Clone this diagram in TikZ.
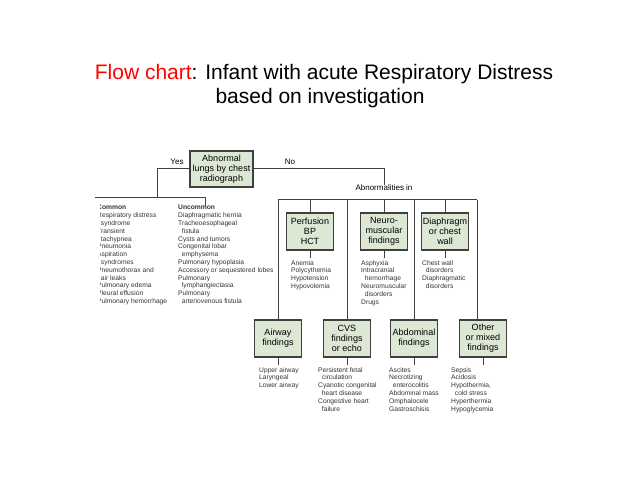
\documentclass[tikz,border=0pt]{standalone}
\usepackage{fontspec}
\setmainfont{Liberation Sans}
\begin{document}
\begin{tikzpicture}[x=1pt,y=-1pt,
  box/.style={draw=black!75,line width=1.2pt,fill={rgb,255:red,221;green,232;blue,212},align=center,font=\fontsize{9}{10}\selectfont,inner sep=1pt},
  ln/.style={draw=black!75,line width=1pt},
  lst/.style={anchor=north west,align=left,font=\fontsize{6.7}{7.8}\selectfont,inner sep=0pt,text=black!80},
  lab/.style={font=\fontsize{8}{9}\selectfont,inner sep=0pt}]
\useasboundingbox (0,0) rectangle (638,478);
\node (t1) at (324,74) {\fontsize{21}{24}\selectfont\textcolor{red}{Flow chart}: Infant with acute Respiratory Distress};
\node (t2) at (320,98) {\fontsize{21}{24}\selectfont based on investigation};
\node[box,minimum width=63pt,minimum height=36pt] (top) at (221.5,169) {Abnormal\\lungs by chest\\radiograph};
\node[lab] (yes) at (177,162) {Yes};
\node[lab] (no) at (290,162) {No};
\node[lab] (abn) at (384,188) {Abnormalities in};
\coordinate (yl) at (157,169);
\coordinate (yd) at (157,198);
\coordinate (cl) at (95,198);
\coordinate (ur) at (205,198);
\coordinate (ud) at (205,206);
\draw[ln] (top.west) -- (yl) -- (yd);
\draw[ln] (cl) -- (ur) -- (ud);
\coordinate (nr) at (384,169);
\draw[ln] (top.east) -- (nr) -- (abn.north);
\coordinate (hl) at (278,200);
\coordinate (hr) at (477,200);
\draw[ln] (hl) -- (hr);
\foreach \n/\x/\t in {p/310/{Perfusion\\BP\\HCT},n/384/{Neuro-\\muscular\\findings},d/445/{Diaphragm\\or chest\\wall}}{
  \node[box,minimum width=47pt,minimum height=37pt] (\n) at (\x,231.5) {\t};
  \coordinate (\n t) at (\x,200);
  \coordinate (\n b) at (\x,258);
  \draw[ln] (\n t) -- (\n.north);
  \draw[ln] (\n.south) -- (\n b);
}
\foreach \n/\x/\t in {a/278/{Airway\\findings},c/347/{CVS\\findings\\or echo},b/414/{Abdominal\\findings},o/483/{Other\\or mixed\\findings}}{
  \node[box,minimum width=47pt,minimum height=37pt] (\n) at (\x,338.5) {\t};
  \coordinate (\n b) at (\x,365);
  \draw[ln] (\n.south) -- (\n b);
}
\coordinate (at) at (278,200);
\coordinate (ct) at (347,200);
\coordinate (bt) at (414,200);
\coordinate (ot) at (477,200);
\coordinate (oo) at (477,320);
\draw[ln] (at) -- (a.north);
\draw[ln] (ct) -- (c.north);
\draw[ln] (bt) -- (b.north);
\draw[ln] (ot) -- (oo);
\begin{scope}
\clip (100,190) rectangle (300,320);
\node[lst] (com) at (97,205) {\textbf{Common}\\Respiratory distress\\\ \ syndrome\\Transient\\\ \ tachypnea\\Pneumonia\\Aspiration\\\ \ syndromes\\Pneumothorax and\\\ \ air leaks\\Pulmonary edema\\Pleural effusion\\Pulmonary hemorrhage};
\end{scope}
\node[lst] (unc) at (178,205) {\textbf{Uncommon}\\Diaphragmatic hernia\\Tracheoesophageal\\\ \ fistula\\Cysts and tumors\\Congenital lobar\\\ \ emphysema\\Pulmonary hypoplasia\\Accessory or sequestered lobes\\Pulmonary\\\ \ lymphangiectasia\\Pulmonary\\\ \ arteriovenous fistula};
\node[lst] (pl) at (291,260) {Anemia\\Polycythemia\\Hypotension\\Hypovolemia};
\node[lst] (nl) at (361,260) {Asphyxia\\Intracranial\\\ \ hemorrhage\\Neuromuscular\\\ \ disorders\\Drugs};
\node[lst] (dl) at (422,260) {Chest wall\\\ \ disorders\\Diaphragmatic\\\ \ disorders};
\node[lst] (al) at (259,367) {Upper airway\\Laryngeal\\Lower airway};
\node[lst] (cl2) at (318,367) {Persistent fetal\\\ \ circulation\\Cyanotic congenital\\\ \ heart disease\\Congestive heart\\\ \ failure};
\node[lst] (bl) at (389,367) {Ascites\\Necrotizing\\\ \ enterocolitis\\Abdominal mass\\Omphalocele\\Gastroschisis};
\node[lst] (ol) at (451,367) {Sepsis\\Acidosis\\Hypothermia,\\\ \ cold stress\\Hyperthermia\\Hypoglycemia};
\end{tikzpicture}
\end{document}
